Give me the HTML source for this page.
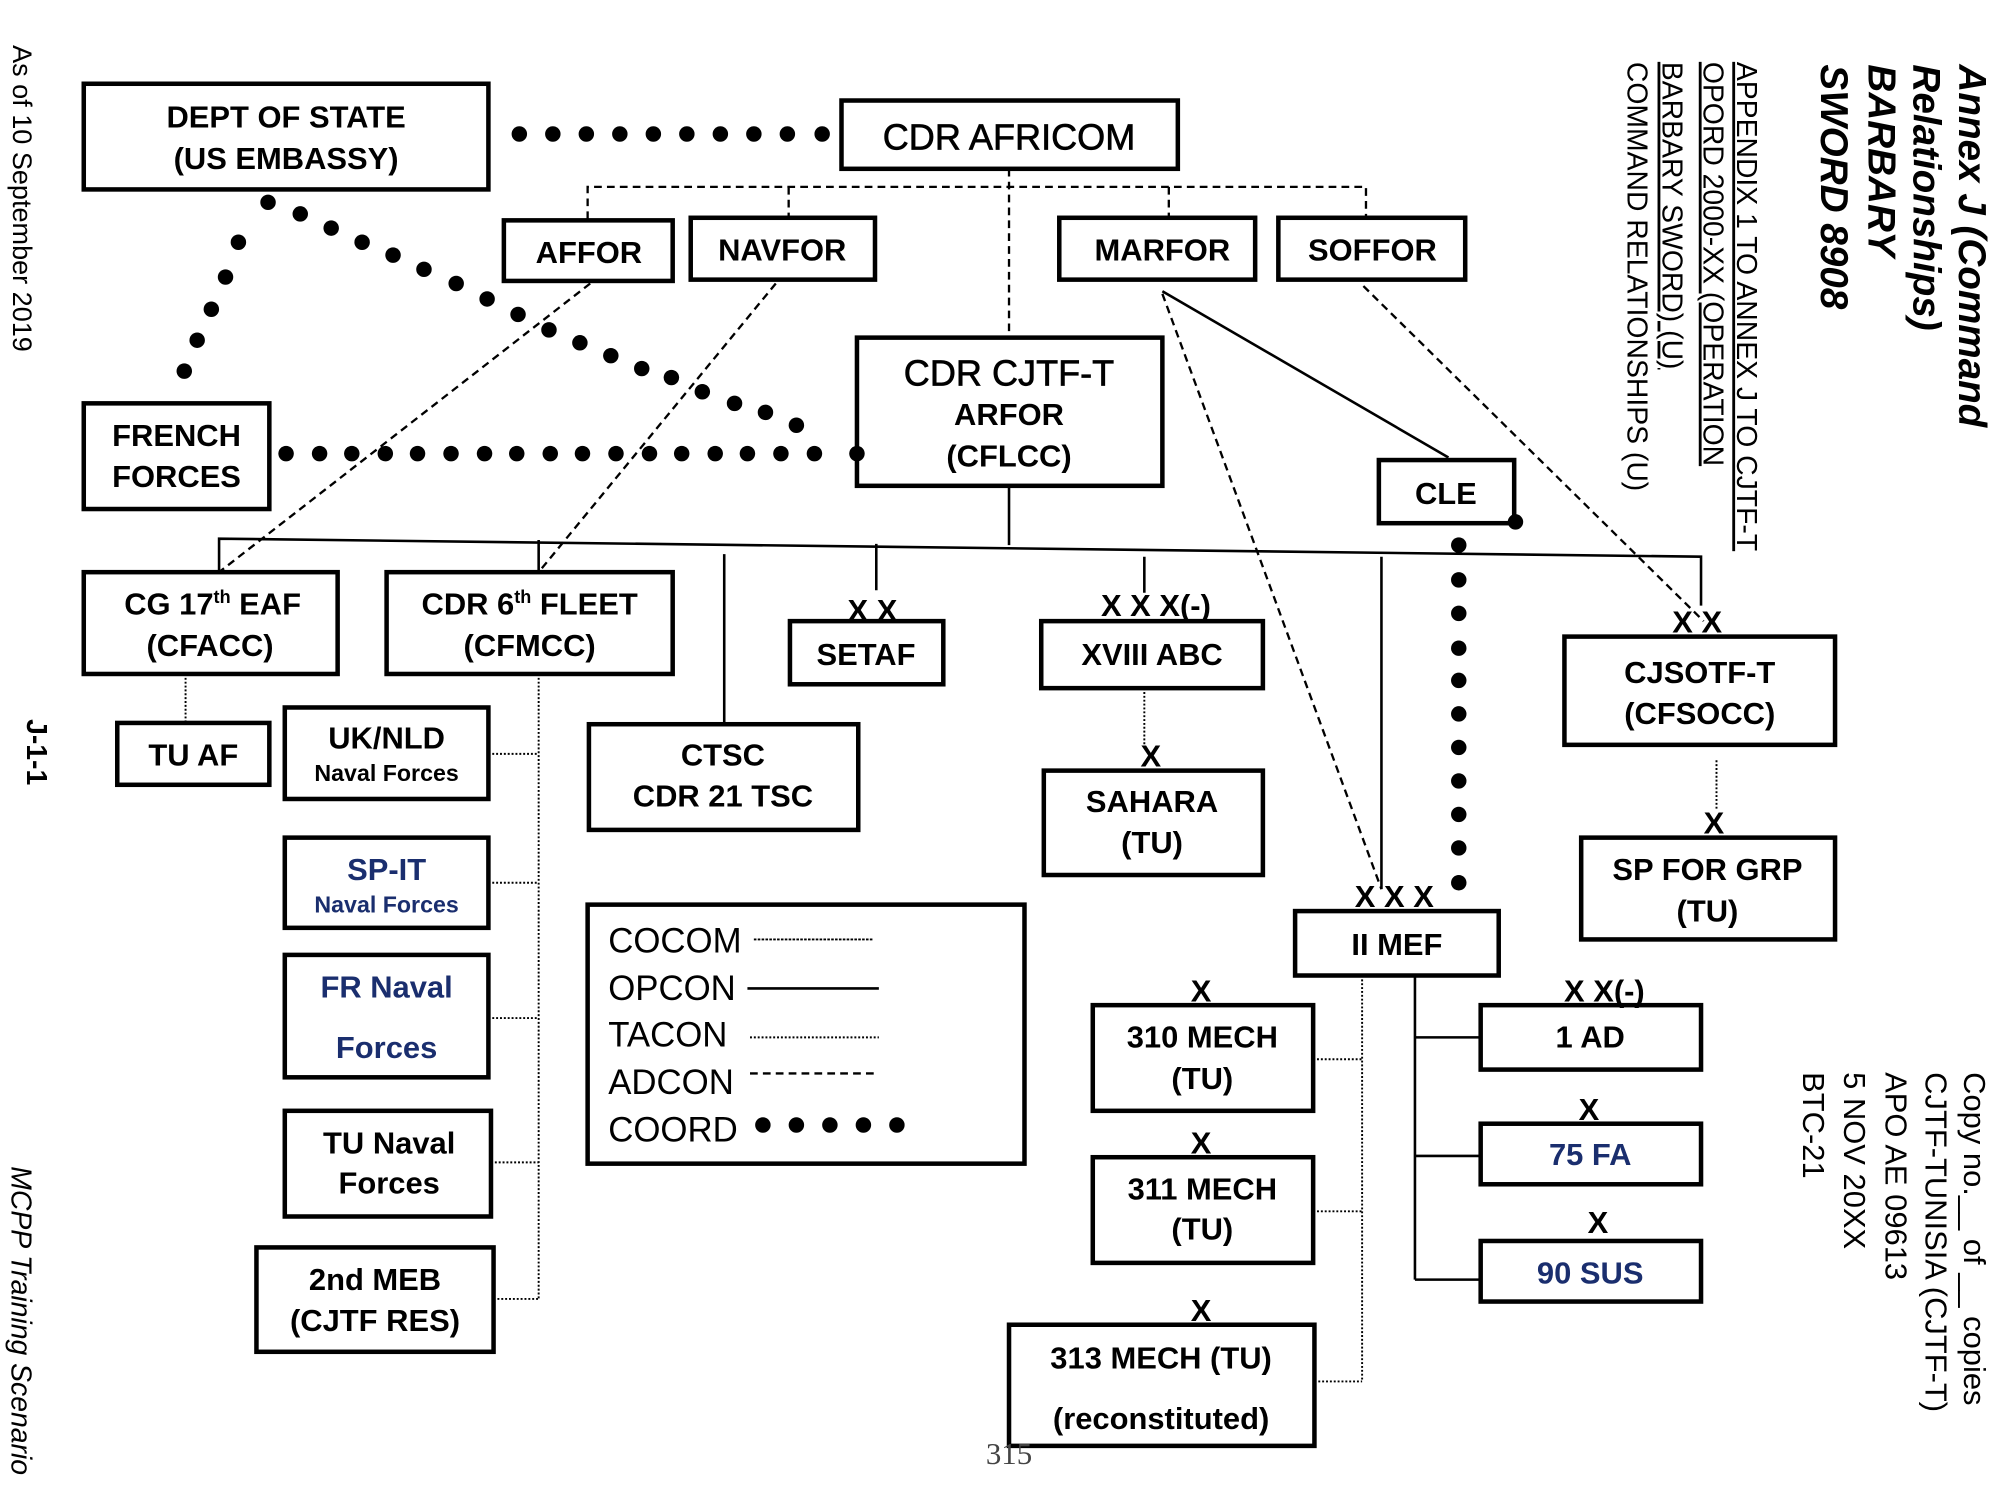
<!DOCTYPE html>
<html><head><meta charset="utf-8"><style>
html,body{margin:0;padding:0;background:#fff;}
svg{display:block;}
text{font-family:"Liberation Sans",Arial,sans-serif;}
.b{font-weight:bold;font-size:24px;}
.s{font-weight:bold;font-size:18px;}
.bl{fill:#1a2e6e;}
.r{fill:none;stroke:#000;stroke-width:3.5;}
</style></head><body>
<svg width="2000" height="1500" viewBox="0 0 1552 1164" xmlns="http://www.w3.org/2000/svg">
<rect width="1552" height="1164" fill="#fff"/>
<g fill="none" stroke="#000">
 <g stroke-width="1.8" stroke-dasharray="6,4">
  <path d="M456 170 V145 H1060 V170 M612 145 V169 M907 145 V169 M783 131 V262"/>
  <path d="M458 220 L170 444 M602 220 L418 444 M902 228 L1072 690 M1058 222 L1322 482"/>
 </g>
 <g stroke-width="2">
  <path d="M902 226 L1124 355"/>
  <path d="M783 377 V423"/>
  <path d="M170 444 V418 L1320 432 V470"/>
  <path d="M418 419 V444 M562 430 V562 M680 422 V458 M888 432 V460 M1072 432 V690"/>
  <path d="M1098 757 V993 M1098 805 H1149 M1098 897 H1149 M1098 993 H1149"/>
 </g>
 <g stroke-width="1.5" stroke-dasharray="1.5,1.5">
  <path d="M144 523 V561"/>
  <path d="M418 523 V1008 M379 585 H418 M379 685 H418 M379 790 H418 M381 902 H418 M383 1008 H418"/>
  <path d="M888 534 V578 M1332 590 V628"/>
  <path d="M1057 757 V1072 M1019 822 H1057 M1019 940 H1057 M1020 1072 H1057"/>
 </g>
</g>
<g fill="#000">
 <circle cx="403" cy="104" r="6"/><circle cx="429" cy="104" r="6"/><circle cx="455" cy="104" r="6"/><circle cx="481" cy="104" r="6"/><circle cx="507" cy="104" r="6"/><circle cx="533" cy="104" r="6"/><circle cx="559" cy="104" r="6"/><circle cx="585" cy="104" r="6"/><circle cx="611" cy="104" r="6"/><circle cx="638" cy="104" r="6"/>
 <circle cx="208" cy="157" r="6"/><circle cx="233" cy="166" r="6"/><circle cx="257" cy="177" r="6"/><circle cx="281" cy="188" r="6"/><circle cx="305" cy="198" r="6"/><circle cx="329" cy="209" r="6"/><circle cx="354" cy="220" r="6"/><circle cx="378" cy="232" r="6"/><circle cx="402" cy="244" r="6"/><circle cx="426" cy="256" r="6"/><circle cx="450" cy="266" r="6"/><circle cx="474" cy="276" r="6"/><circle cx="498" cy="286" r="6"/><circle cx="521" cy="293" r="6"/><circle cx="545" cy="304" r="6"/><circle cx="570" cy="313" r="6"/><circle cx="594" cy="320" r="6"/><circle cx="618" cy="330" r="6"/>
 <circle cx="185" cy="188" r="6"/><circle cx="175" cy="215" r="6"/><circle cx="164" cy="240" r="6"/><circle cx="153" cy="264" r="6"/><circle cx="143" cy="288" r="6"/>
 <circle cx="222" cy="352" r="6"/><circle cx="248" cy="352" r="6"/><circle cx="273" cy="352" r="6"/><circle cx="299" cy="352" r="6"/><circle cx="324" cy="352" r="6"/><circle cx="350" cy="352" r="6"/><circle cx="376" cy="352" r="6"/><circle cx="401" cy="352" r="6"/><circle cx="427" cy="352" r="6"/><circle cx="452" cy="352" r="6"/><circle cx="478" cy="352" r="6"/><circle cx="504" cy="352" r="6"/><circle cx="529" cy="352" r="6"/><circle cx="555" cy="352" r="6"/><circle cx="580" cy="352" r="6"/><circle cx="606" cy="352" r="6"/><circle cx="632" cy="352" r="6"/><circle cx="665" cy="352" r="6"/>
 <circle cx="1176" cy="405" r="6"/>
 <circle cx="1132" cy="423" r="6"/><circle cx="1132" cy="450" r="6"/><circle cx="1132" cy="476" r="6"/><circle cx="1132" cy="503" r="6"/><circle cx="1132" cy="528" r="6"/><circle cx="1132" cy="554" r="6"/><circle cx="1132" cy="580" r="6"/><circle cx="1132" cy="606" r="6"/><circle cx="1132" cy="632" r="6"/><circle cx="1132" cy="658" r="6"/><circle cx="1132" cy="685" r="6"/>
</g>
<g fill="#fff" class="r">
 <rect x="65" y="65" width="314" height="82"/>
 <rect x="653" y="78" width="261" height="53"/>
 <rect x="391" y="171" width="131" height="47"/>
 <rect x="536" y="169" width="143" height="48"/>
 <rect x="822" y="169" width="152" height="48"/>
 <rect x="992" y="169" width="145" height="48"/>
 <rect x="665" y="262" width="237" height="115"/>
 <rect x="65" y="313" width="144" height="82"/>
 <rect x="1070" y="357" width="105" height="49"/>
 <rect x="65" y="444" width="197" height="79"/>
 <rect x="300" y="444" width="222" height="79"/>
 <rect x="613" y="482" width="119" height="49"/>
 <rect x="808" y="482" width="172" height="52"/>
 <rect x="1214" y="494" width="210" height="84"/>
 <rect x="91" y="561" width="118" height="48"/>
 <rect x="221" y="549" width="158" height="71"/>
 <rect x="457" y="562" width="209" height="82"/>
 <rect x="810" y="598" width="170" height="81"/>
 <rect x="1227" y="650" width="197" height="79"/>
 <rect x="221" y="650" width="158" height="70"/>
 <rect x="456" y="702" width="339" height="201"/>
 <rect x="1005" y="707" width="158" height="50"/>
 <rect x="221" y="741" width="158" height="95"/>
 <rect x="848" y="780" width="171" height="82"/>
 <rect x="1149" y="780" width="171" height="50"/>
 <rect x="221" y="862" width="160" height="82"/>
 <rect x="1149" y="872" width="171" height="47"/>
 <rect x="848" y="898" width="171" height="82"/>
 <rect x="1149" y="963" width="171" height="47"/>
 <rect x="199" y="968" width="184" height="81"/>
 <rect x="783" y="1028" width="237" height="94"/>
</g>
<g text-anchor="middle">
 <text class="b" x="222" y="99">DEPT OF STATE</text>
 <text class="b" x="222" y="131">(US EMBASSY)</text>
 <text x="783" y="116" font-size="28" stroke="#000" stroke-width="0.5">CDR AFRICOM</text>
 <text class="b" x="457" y="204">AFFOR</text>
 <text class="b" x="607" y="202">NAVFOR</text>
 <text class="b" x="902" y="202">MARFOR</text>
 <text class="b" x="1065" y="202">SOFFOR</text>
 <text x="783" y="299" font-size="28" stroke="#000" stroke-width="0.5">CDR CJTF-T</text>
 <text class="b" x="783" y="330">ARFOR</text>
 <text class="b" x="783" y="362">(CFLCC)</text>
 <text class="b" x="137" y="346">FRENCH</text>
 <text class="b" x="137" y="378">FORCES</text>
 <text class="b" x="1122" y="391">CLE</text>
 <text class="b" x="165" y="477">CG 17<tspan font-size="14" dy="-9">th</tspan><tspan dy="9"> EAF</tspan></text>
 <text class="b" x="163" y="509">(CFACC)</text>
 <text class="b" x="411" y="477">CDR 6<tspan font-size="14" dy="-9">th</tspan><tspan dy="9"> FLEET</tspan></text>
 <text class="b" x="411" y="509">(CFMCC)</text>
 <text class="b" x="677" y="482">X X</text>
 <text class="b" x="672" y="516">SETAF</text>
 <text class="b" x="897" y="478">X X X(-)</text>
 <text class="b" x="894" y="516">XVIII ABC</text>
 <text class="b" x="1317" y="491">X X</text>
 <text class="b" x="1319" y="530">CJSOTF-T</text>
 <text class="b" x="1319" y="562">(CFSOCC)</text>
 <text class="b" x="150" y="594">TU AF</text>
 <text class="b" x="300" y="581">UK/NLD</text>
 <text class="s" x="300" y="606">Naval Forces</text>
 <text class="b" x="561" y="594">CTSC</text>
 <text class="b" x="561" y="626">CDR 21 TSC</text>
 <text class="b" x="893" y="595">X</text>
 <text class="b" x="894" y="630">SAHARA</text>
 <text class="b" x="894" y="662">(TU)</text>
 <text class="b" x="1330" y="647">X</text>
 <text class="b" x="1325" y="683">SP FOR GRP</text>
 <text class="b" x="1325" y="715">(TU)</text>
 <text class="b bl" x="300" y="683">SP-IT</text>
 <text class="s bl" x="300" y="708">Naval Forces</text>
 <text class="b" x="1082" y="704">X X X</text>
 <text class="b" x="1084" y="741">II MEF</text>
 <text class="b bl" x="300" y="774">FR Naval</text>
 <text class="b bl" x="300" y="821">Forces</text>
 <text class="b" x="932" y="777">X</text>
 <text class="b" x="933" y="813">310 MECH</text>
 <text class="b" x="933" y="845">(TU)</text>
 <text class="b" x="1245" y="777">X X(-)</text>
 <text class="b" x="1234" y="813">1 AD</text>
 <text class="b" x="302" y="895">TU Naval</text>
 <text class="b" x="302" y="926">Forces</text>
 <text class="b" x="1233" y="869">X</text>
 <text class="b bl" x="1234" y="904">75 FA</text>
 <text class="b" x="932" y="895">X</text>
 <text class="b" x="933" y="931">311 MECH</text>
 <text class="b" x="933" y="962">(TU)</text>
 <text class="b" x="1240" y="957">X</text>
 <text class="b bl" x="1234" y="996">90 SUS</text>
 <text class="b" x="291" y="1001">2nd MEB</text>
 <text class="b" x="291" y="1033">(CJTF RES)</text>
 <text class="b" x="932" y="1025">X</text>
 <text class="b" x="901" y="1062">313 MECH (TU)</text>
 <text class="b" x="901" y="1109">(reconstituted)</text>
</g>
<g font-size="27">
 <text x="472" y="739">COCOM</text>
 <text x="472" y="776">OPCON</text>
 <text x="472" y="812">TACON</text>
 <text x="472" y="849">ADCON</text>
 <text x="472" y="886">COORD</text>
</g>
<g stroke="#000" fill="none">
 <path d="M585 729 H677" stroke-width="1.5" stroke-dasharray="2,1"/>
 <path d="M580 767 H682" stroke-width="2"/>
 <path d="M582 805 H682" stroke-width="1.5" stroke-dasharray="1.5,1.5"/>
 <path d="M582 833 H682" stroke-width="1.8" stroke-dasharray="6,4"/>
</g>
<g fill="#000"><circle cx="592" cy="873" r="6"/><circle cx="618" cy="873" r="6"/><circle cx="644" cy="873" r="6"/><circle cx="670" cy="873" r="6"/><circle cx="696" cy="873" r="6"/></g>
<text x="783" y="1136" text-anchor="middle" font-size="24" fill="#444" style="font-family:'Liberation Serif',serif">315</text>
<g font-weight="bold" font-style="italic" font-size="30">
 <text transform="translate(1520,50) rotate(90)">Annex J (Command</text>
 <text transform="translate(1485,50) rotate(90)">Relationships)</text>
 <text transform="translate(1450,50) rotate(90)">BARBARY</text>
 <text transform="translate(1413,50) rotate(90)">SWORD 8908</text>
</g>
<g font-size="22">
 <text transform="translate(1348,48) rotate(90)" text-decoration="underline">APPENDIX 1 TO ANNEX J TO CJTF-T</text>
 <text transform="translate(1322,48) rotate(90)" text-decoration="underline">OPORD 2000-XX (OPERATION</text>
 <text transform="translate(1290,48) rotate(90)" text-decoration="underline">BARBARY SWORD) (U)</text>
 <text transform="translate(1263,48) rotate(90)">COMMAND RELATIONSHIPS (U)</text>
</g>
<g font-size="24">
 <text transform="translate(1524,832) rotate(90)">Copy no.__ of __ copies</text>
 <text transform="translate(1494,832) rotate(90)">CJTF-TUNISIA (CJTF-T)</text>
 <text transform="translate(1463,832) rotate(90)">APO AE 09613</text>
 <text transform="translate(1431,832) rotate(90)">5 NOV 20XX</text>
 <text transform="translate(1399,832) rotate(90)">BTC-21</text>
</g>
<text transform="translate(10,35) rotate(90)" font-size="21">As of 10 September  2019</text>
<text transform="translate(21,558) rotate(90)" font-size="22" font-weight="bold">J-1-1</text>
<text transform="translate(9,905) rotate(90)" font-size="22" font-style="italic">MCPP Training Scenario</text>
</svg>
</body></html>
